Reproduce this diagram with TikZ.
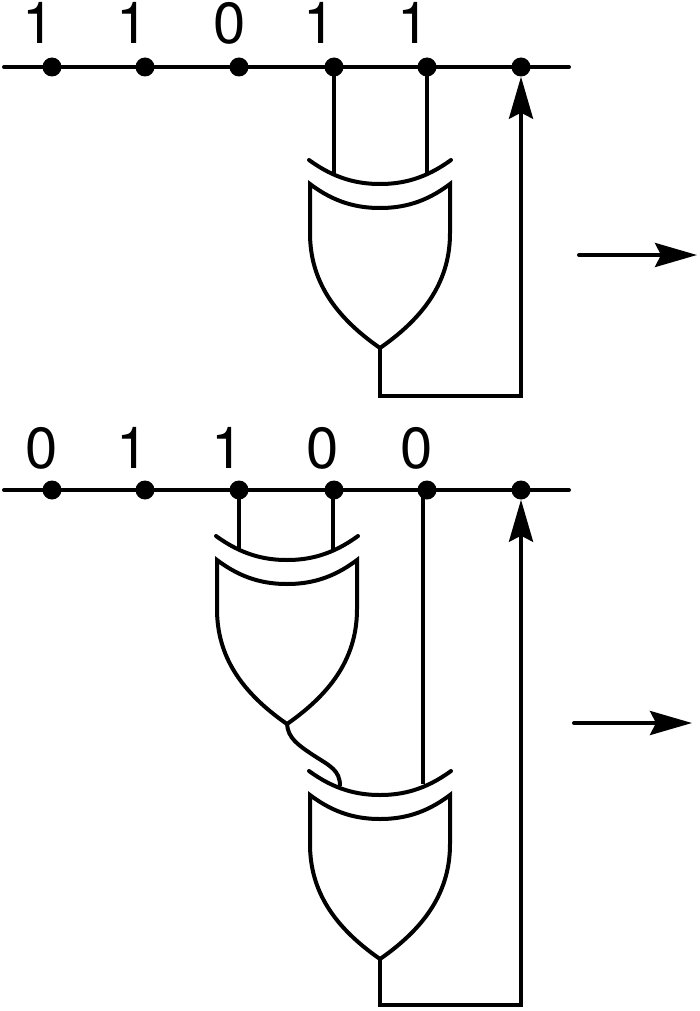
\documentclass[tikz,border=0pt]{standalone}
\usepackage{fontspec}
\setmainfont{TeX Gyre Heros}
\usetikzlibrary{arrows.meta,calc}
\tikzset{
  x=1pt,y=-1pt,
  wire/.style={line width=4pt,line join=miter,black},
  bus/.style={wire,line cap=round},
  dotnode/.style={circle,fill=black,inner sep=0pt,minimum size=19pt},
  bit/.style={anchor=base,inner sep=0pt,font=\fontsize{58}{62}\selectfont},
  head/.style={-{Stealth[length=42pt,width=24pt,inset=6pt]}},
  pics/xorgate/.style={code={
    \draw[wire,line cap=round] (-71,-188) .. controls (-45,-169) and (-22,-164) .. (0,-164)
       .. controls (22,-164) and (45,-169) .. (71,-188);
    \draw[wire,line join=miter] (0,0) .. controls (-46,-32) and (-70,-68) .. (-70,-115)
       -- (-70,-164) .. controls (-45,-145) and (-22,-140) .. (0,-140)
       .. controls (22,-140) and (45,-145) .. (70,-164)
       -- (70,-115) .. controls (70,-68) and (46,-32) .. (0,0);
    \coordinate (-out) at (0,0);
    \coordinate (-back) at (0,-175);
  }}
}
\begin{document}
\begin{tikzpicture}
\useasboundingbox (0,0) rectangle (700,1011);
% top row
\coordinate (la) at (4,67);
\coordinate (lb) at (569,67);
\draw[bus] (la) -- (lb);
\foreach \n/\x in {a/52,b/145,c/239,d/334,e/427,f/521}
  \node[dotnode] (t\n) at (\x,67) {};
\node[bit] (t1) at (39,44) {1};
\node[bit] (t2) at (133,44) {1};
\node[bit] (t3) at (230,44) {0};
\node[bit] (t4) at (320,44) {1};
\node[bit] (t5) at (414,44) {1};
\pic (g1) at (380,348) {xorgate};
\draw[wire] (td.center) -- (td.center |- g1-back);
\draw[wire] (te.center) -- (te.center |- g1-back);
\coordinate (fb1) at (380,396);
\draw[wire,head] (g1-out) -- (fb1) -- (tf |- fb1) -- (tf.south);
\coordinate (as1) at (579,255);
\coordinate (ae1) at (697,255);
\draw[bus,head] (as1) -- (ae1);
% bottom row
\coordinate (lc) at (4,490);
\coordinate (ld) at (569,490);
\draw[bus] (lc) -- (ld);
\foreach \n/\x in {a/52,b/145,c/239,d/334,e/427,f/521}
  \node[dotnode] (b\n) at (\x,490) {};
\node[bit] (b1) at (42,468) {0};
\node[bit] (b2) at (133,468) {1};
\node[bit] (b3) at (228,468) {1};
\node[bit] (b4) at (323,468) {0};
\node[bit] (b5) at (417,468) {0};
\pic (g2) at (287,724) {xorgate};
\pic (g3) at (380,959) {xorgate};
\draw[wire] (bc.center) -- (bc.center |- g2-back);
\draw[wire] ($(bd.center)+(-1,0)$) -- ($(bd.center |- g2-back)+(-1,0)$);
\draw[wire] ($(be.center)+(-4.5,0)$) -- ($(be.center |- g3-back)+(-4.5,0)$);
\draw[wire] (g2-out) .. controls (288,738) and (298,745) .. (313,755)
   .. controls (330,766) and (340,770) .. (340,786);
\coordinate (fb2) at (380,1005);
\draw[wire,head] (g3-out) -- (fb2) -- (bf |- fb2) -- (bf.south);
\coordinate (as2) at (574,723);
\coordinate (ae2) at (692,723);
\draw[bus,head] (as2) -- (ae2);
\end{tikzpicture}
\end{document}
